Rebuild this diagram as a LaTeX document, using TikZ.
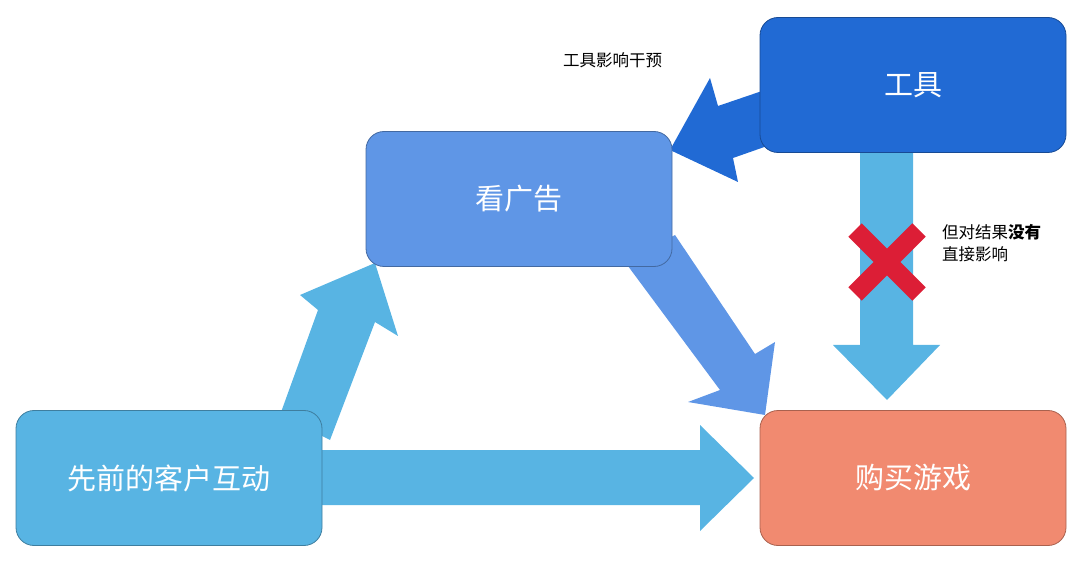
\documentclass[tikz,border=0pt]{standalone}
\usepackage{fontspec}
\setmainfont{Noto Sans CJK SC}
\begin{document}
\begin{tikzpicture}[x=1pt,y=-1pt,
 box/.style={rounded corners=18pt,draw=#1!70!black,line width=0.8pt,fill=#1,minimum width=306pt,minimum height=135pt,text=white,font=\fontsize{29}{34}\selectfont},
 lbl/.style={font=\fontsize{16.5}{22}\selectfont,align=left,inner sep=0pt}]
\definecolor{dblue}{HTML}{216AD4}\definecolor{mblue}{HTML}{5F96E6}
\definecolor{lblue}{HTML}{58B4E3}\definecolor{org}{HTML}{F18A70}\definecolor{xred}{HTML}{DC1E36}
\useasboundingbox (0,0) rectangle (1080,564);
% arrows
\fill[lblue] (280,415) -- (318,310) -- (300,295) -- (375,263) -- (398,336) -- (375,322) -- (330,440) -- cycle;
\fill[lblue] (322,450) -- (700,450) -- (700,425) -- (754,478) -- (700,531) -- (700,505) -- (322,505) -- cycle;
\fill[mblue] (625,262) -- (720,390) -- (688,402) -- (765,415) -- (775,342) -- (755,354) -- (675,235) -- cycle;
\fill[dblue] (765,90) -- (718,106) -- (710,78) -- (670,150) -- (738,182) -- (733,158) -- (770,145) -- cycle;
\fill[lblue] (860,150) -- (913,150) -- (913,345) -- (940,345) -- (887,400) -- (833,345) -- (860,345) -- cycle;
\draw[xred,line width=19pt] (855,230) -- (919,294) (919,230) -- (855,294);
% boxes
\node[box=dblue] (tool) at (913,85) {工具};
\node[box=mblue] (ad) at (519,199) {看广告};
\node[box=lblue] (prev) at (169,478) {先前的客户互动};
\node[box=org] (buy) at (913,478) {购买游戏};
\node[lbl,anchor=west] (l1) at (563,60) {工具影响干预};
\node[lbl,anchor=north west] (l2) at (942,224) {但对结果\textbf{没有}\\直接影响};
\end{tikzpicture}
\end{document}
